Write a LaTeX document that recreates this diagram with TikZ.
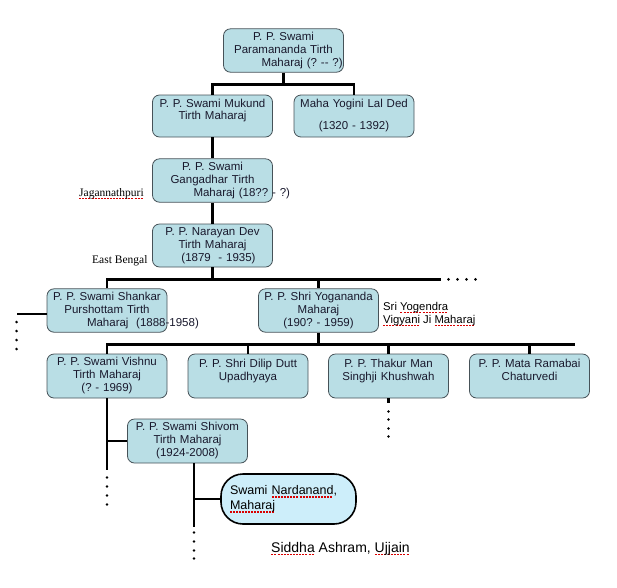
\documentclass[tikz,border=0pt]{standalone}
\usepackage{fontspec}
\setmainfont{Liberation Sans}
\newfontfamily\serifnote{Liberation Serif}
\usepackage{tikz}
\usetikzlibrary{positioning}
\frenchspacing

\definecolor{boxfill}{RGB}{185,222,229}
\definecolor{boxline}{RGB}{70,82,88}
\definecolor{boxtext}{RGB}{25,25,45}
\definecolor{pillfill}{RGB}{205,238,250}

\newsavebox{\spellbox}
\newcommand{\spellerr}[1]{\sbox{\spellbox}{#1}\leavevmode\rlap{\hbox to \wd\spellbox{\color{red!85!black}\xleaders\hbox{\rule[-3pt]{2pt}{1.1pt}\kern1pt}\hfill}}\usebox{\spellbox}}
\newcommand{\shiftline}[2]{\makebox[120pt][l]{\hspace*{#1}#2}}

\begin{document}
\begin{tikzpicture}[x=1pt,y=-1pt,
		box/.style={rectangle, rounded corners=7pt, draw=boxline, line width=0.8pt, fill=boxfill,
			text=boxtext, text width=120pt, inner xsep=0pt, align=center, minimum height=43pt,
			font=\fontsize{11.5}{13}\selectfont},
		pill/.style={rectangle, rounded corners=22pt, draw=black, line width=1.6pt, fill=pillfill,
			text width=117pt, inner xsep=0pt, inner ysep=0pt, align=left, minimum height=50pt,
			minimum width=135pt, text=black, font=\fontsize{12.5}{15}\selectfont},
		note/.style={inner sep=0pt, font=\serifnote\fontsize{11.5}{13}\selectfont},
		conn/.style={line width=2.7pt},
		thickconn/.style={line width=3.6pt}]
	\useasboundingbox (0,0) rectangle (617,587);

	\node[box] (top) at (283.5,50.5) {P. P. Swami\\Paramananda Tirth\\\shiftline{38pt}{Maharaj (? -{}- ?)}};
	\node[box, minimum height=42pt] (mukund) at (212.5,116) {P. P. Swami Mukund\\[-1pt]Tirth Maharaj\\\mbox{}};
	\node[box, minimum height=42pt] (lalded) at (354,116) {Maha Yogini Lal Ded\\[9pt](1320 - 1392)};
	\node[box] (gangadhar) at (212.5,180.5) {P. P. Swami\\Gangadhar Tirth\\\shiftline{41pt}{Maharaj (18?? - ?)}};
	\node[box] (narayan) at (212.5,245.5) {P. P. Narayan Dev\\Tirth Maharaj\\\hspace*{12pt}(1879\ \ - 1935)};
	\node[box] (shankar) at (107,310.5) {P. P. Swami Shankar\\Purshottam Tirth\\\shiftline{40pt}{Maharaj\ \ (1888-1958)}};
	\node[box] (yogananda) at (318.5,310.5) {P. P. Shri Yogananda\\Maharaj\\(190? - 1959)};
	\node[box, minimum height=44pt] (vishnu) at (107,376) {P. P. Swami Vishnu\\Tirth Maharaj\\(? - 1969)};
	\node[box, minimum height=44pt] (dilip) at (248,376) {P. P. Shri Dilip Dutt\\Upadhyaya\\\mbox{}};
	\node[box, minimum height=44pt] (thakur) at (388.5,376) {P. P. Thakur Man\\Singhji Khushwah\\\mbox{}};
	\node[box, minimum height=44pt] (ramabai) at (529.5,376) {P. P. Mata Ramabai\\Chaturvedi\\\mbox{}};
	\node[box, minimum height=44pt] (shivom) at (187.5,441) {P. P. Swami Shivom\\Tirth Maharaj\\(1924-2008)};
	\node[pill] (nardanand) at (288.5,499) {Swami \spellerr{Nardanand},\\\spellerr{Maharaj}};

	\node[note, anchor=base west] (jagannath) at (79,196) {\spellerr{Jagannathpuri}};
	\node[note, anchor=base west] (bengal) at (92,263) {East Bengal};
	\node[inner sep=0pt, anchor=north west, align=left, font=\fontsize{11.3}{13}\selectfont] (yogendra) at (383,302)
		{Sri \spellerr{Yogendra}\\\spellerr{Vigyani} Ji \spellerr{Maharaj}};
	\node[inner sep=0pt, anchor=base west, font=\fontsize{14}{16}\selectfont] (ashram) at (271,552)
		{\spellerr{Siddha} Ashram, \spellerr{Ujjain}};

	\draw[conn] (top.south) -- ++(0,12) coordinate (j1);
	\draw[conn] (mukund.north) |- (j1) -| (lalded.north);
	\draw[conn] (mukund.south) -- (gangadhar.north);
	\draw[conn] (gangadhar.south) -- (narayan.north);

	\draw[conn] (narayan.south) -- ++(0,12) coordinate (j2);
	\draw[conn] (shankar.north) |- (j2) -| (yogananda.north);
	\draw[thickconn] (j2 -| yogananda.north) -- ++(122,0) coordinate (more1);
	\foreach \d in {8,17,26,35}
		\fill (more1) ++(\d,0) circle (1.5pt);

	\draw[conn] ([yshift=-3.5pt]shankar.west) -- ++(-30,0) coordinate (more2);
	\foreach \d in {8,17,26,35}
		\fill (more2) ++(0,\d) circle (1.4pt);

	\draw[conn] (yogananda.south) -- ++(0,12) coordinate (j3);
	\draw[conn] (vishnu.north) |- (j3);
	\draw[thickconn] (j3) -- ++(256,0);
	\foreach \n in {dilip,thakur,ramabai}
		\draw[conn] (\n.north) -- (\n.north |- j3);

	\draw[conn] (thakur.south) -- ++(0,5) coordinate (more3);
	\foreach \d in {8,16,25,33}
		\fill (more3) ++(0,\d) circle (1.4pt);

	\draw[conn] (vishnu.south) -- ++(0,72) coordinate (more4);
	\draw[conn] (shivom.west) -- (shivom.west -| vishnu.south);
	\foreach \d in {7,16,25,34}
		\fill (more4) ++(0,\d) circle (1.4pt);

	\draw[conn] ([xshift=6.5pt]shivom.south) -- ++(0,64) coordinate (more5);
	\draw[conn] (nardanand.west) -- (nardanand.west -| more5);
	\foreach \d in {5,14,23,31}
		\fill (more5) ++(0,\d) circle (1.4pt);
\end{tikzpicture}
\end{document}
